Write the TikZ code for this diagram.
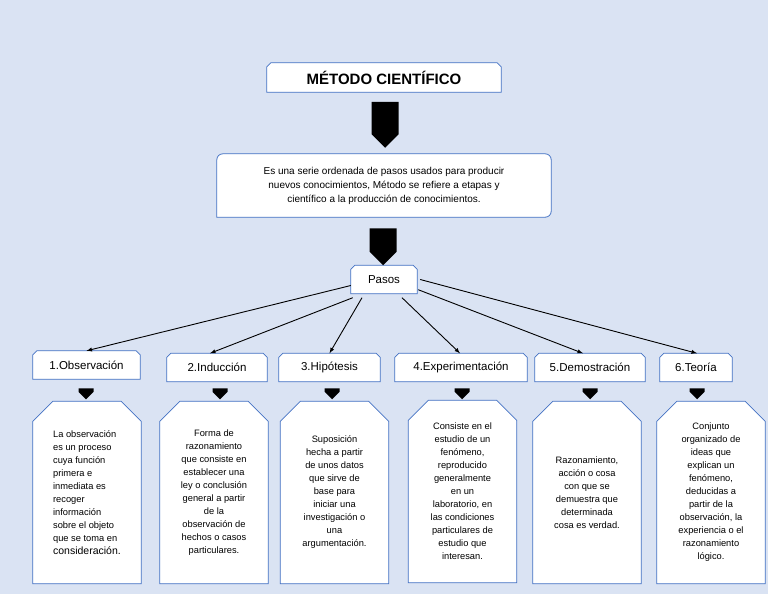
\documentclass[tikz,border=0pt]{standalone}
\usepackage{fontspec}
\setmainfont{Liberation Sans}
\usetikzlibrary{shapes.arrows,backgrounds}
\definecolor{bgblue}{RGB}{218,227,243}
\definecolor{lineblue}{RGB}{68,114,196}

% frame with cut top corners around a node
\newcommand\snipframe[2]{\draw[frame] (#1.south west) -- ([yshift=-#2]#1.north west) -- ([xshift=#2]#1.north west) -- ([xshift=-#2]#1.north east) -- ([yshift=-#2]#1.north east) -- (#1.south east) -- cycle;}

\begin{document}
\begin{tikzpicture}[x=1pt,y=-1pt,
    frame/.style = {draw=lineblue, fill=white, line width=0.8pt},
    stage/.style = {inner sep=0pt, minimum height=28pt, font=\fontsize{11.5}{13}\selectfont},
    info/.style = {inner sep=0pt, minimum width=108pt, minimum height=182pt,
      align=center, font=\fontsize{9.3}{13}\selectfont},
    bigarrow/.style = {single arrow, fill=black, rotate=-90, inner sep=0pt,
      minimum width=27pt, single arrow head extend=0pt, single arrow tip angle=90},
    smallarrow/.style = {single arrow, fill=black, rotate=-90, inner sep=0pt,
      minimum width=15pt, minimum height=11pt, single arrow head extend=0pt, single arrow tip angle=90},
    link/.style = {-latex, line width=0.9pt}
]
\begin{scope}[on background layer]
  \fill[bgblue] (0,0) rectangle (768,594);
\end{scope}

  \node (title) [inner sep=0pt, minimum width=234pt, minimum height=29pt,
    font=\bfseries\fontsize{15}{18}\selectfont] at (384,77.5) {MÉTODO CIENTÍFICO};
  \node (arrowA) [bigarrow, minimum height=46pt] at (385,118) {};
  \node (desc) [inner sep=0pt, minimum width=334pt, minimum height=63pt,
    align=center, font=\fontsize{10}{14}\selectfont] at (384,185.5)
    {Es una serie ordenada de pasos usados para producir\\nuevos conocimientos, Método se refiere a etapas y\\científico a la producción de conocimientos.};
  \node (arrowB) [bigarrow, minimum height=37pt] at (383,240) {};
  \node (pasos) [stage, minimum width=66pt] at (384,279.5) {Pasos};

  \node (s1) [stage, minimum width=107pt] at (86.5,365) {1.Observación};
  \node (s2) [stage, minimum width=100pt] at (217,367.5) {2.Inducción};
  \node (s3) [stage, minimum width=101pt] at (329.5,367.5) {3.Hipótesis};
  \node (s4) [stage, minimum width=132pt] at (461,367.5) {4.Experimentación};
  \node (s5) [stage, minimum width=110pt] at (590,367.5) {5.Demostración};
  \node (s6) [stage, minimum width=72pt] at (696,367.5) {6.Teoría};

  \foreach \s/\x in {1/86,2/220,3/332,4/462,5/590,6/697}
    \node (a\s) [smallarrow] at (\x,390) {};

  \node (t1) [info, align=left] at (87,492.5) {La observación\\es un proceso\\cuya función\\primera e\\inmediata es\\recoger\\información\\sobre el objeto\\que se toma en\\{\fontsize{10.5}{13}\selectfont consideración.}};
  \node (t2) [info] at (214,492.5) {Forma de\\razonamiento\\que consiste en\\establecer una\\ley o conclusión\\general a partir\\de la\\observación de\\hechos o casos\\particulares.};
  \node (t3) [info] at (334.5,492.5) {Suposición\\hecha a partir\\de unos datos\\que sirve de\\base para\\iniciar una\\investigación o\\una\\argumentación.};
  \node (t4) [info] at (462.5,491.5) {Consiste en el\\estudio de un\\fenómeno,\\reproducido\\generalmente\\en un\\laboratorio, en\\las condiciones\\particulares de\\estudio que\\interesan.};
  \node (t5) [info] at (587,492.5) {Razonamiento,\\acción o cosa\\con que se\\demuestra que\\determinada\\cosa es verdad.};
  \node (t6) [info] at (711,492.5) {Conjunto\\organizado de\\ideas que\\explican un\\fenómeno,\\deducidas a\\partir de la\\observación, la\\experiencia o el\\razonamiento\\lógico.};

\begin{scope}[on background layer]
  \snipframe{title}{4pt}
  \draw[frame, rounded corners=6pt] (desc.south west) -- (desc.north west) -- (desc.north east) -- (desc.south east) [sharp corners] -- cycle;
  \snipframe{pasos}{4pt}
  \foreach \s in {s1,s2,s3,s4,s5,s6} {\snipframe{\s}{4pt}}
  \foreach \t in {t1,t2,t3,t4,t5,t6} {\snipframe{\t}{20pt}}
\end{scope}

  \draw[link] (pasos.west) ++(0,6) -- (s1.north);
  \draw[link] (pasos.south west) ++(2,4) -- ([xshift=-7pt]s2.north);
  \draw[link] (pasos.south) ++(-22,4) -- (s3.north);
  \draw[link] (pasos.south) ++(18,4) -- ([xshift=-1pt]s4.north);
  \draw[link] (pasos.south east) ++(1,-4) -- ([xshift=-7pt]s5.north);
  \draw[link] (pasos.east) ++(3,0) -- ([xshift=1pt]s6.north);
\end{tikzpicture}
\end{document}
